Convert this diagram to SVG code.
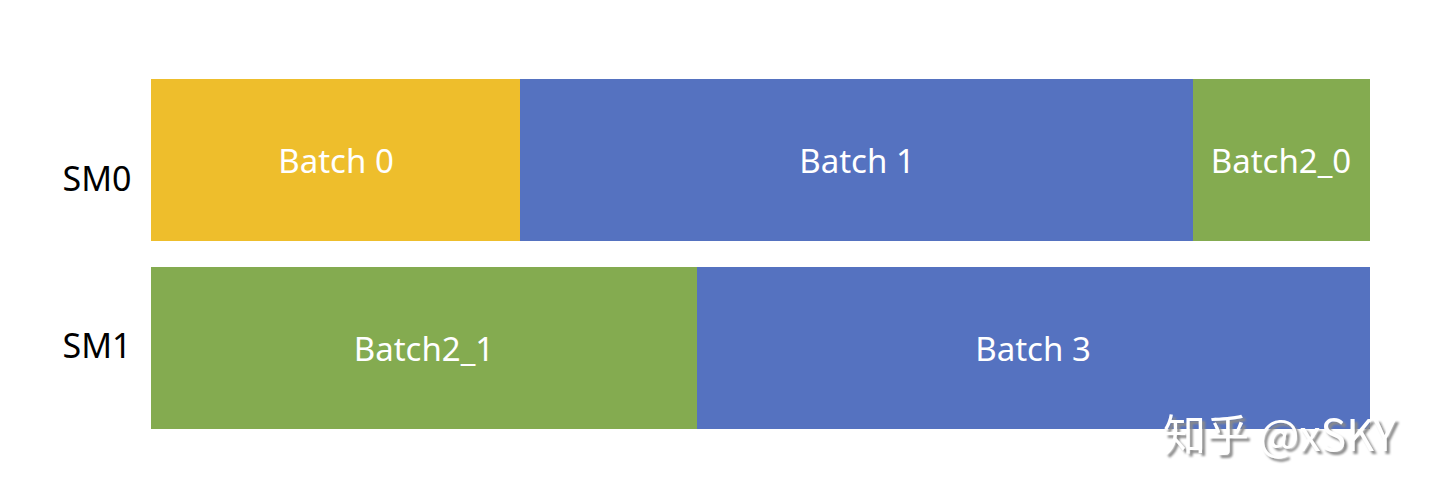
<svg xmlns="http://www.w3.org/2000/svg" width="1440" height="495" viewBox="0 0 1440 495">
<defs>
<filter id="shadow" x="-10%" y="-30%" width="120%" height="160%">
<feDropShadow dx="3" dy="3" stdDeviation="0.8" flood-color="#8a8a8a" flood-opacity="1"/>
</filter>
</defs>
<style>
.lbl{font-family:"Noto Sans","Liberation Sans",sans-serif;font-size:33px;fill:#ffffff;text-anchor:middle;dominant-baseline:central}
.sm{font-family:"Noto Sans","Liberation Sans",sans-serif;font-size:34px;fill:#000000;text-anchor:middle;dominant-baseline:central}
.yel{fill:#EEBE2C}
.blu{fill:#5572C0}
.grn{fill:#84AB50}
.wm{font-family:"Noto Sans CJK SC","Noto Sans",sans-serif;font-size:43px;fill:#ffffff;filter:url(#shadow)}
</style>
<rect width="1440" height="495" fill="#ffffff"/>
<g id="sm0-label"><text class="sm" x="97" y="178">SM0</text></g>
<g id="sm1-label"><text class="sm" x="97" y="345">SM1</text></g>
<g id="batch0"><rect class="yel" x="151" y="79" width="369" height="162"/><text class="lbl" x="336" y="160">Batch 0</text></g>
<g id="batch1"><rect class="blu" x="520" y="79" width="673" height="162"/><text class="lbl" x="857" y="160">Batch 1</text></g>
<g id="batch2_0"><rect class="grn" x="1193" y="79" width="177" height="162"/><text class="lbl" x="1281" y="160">Batch2_0</text></g>
<g id="batch2_1"><rect class="grn" x="151" y="267" width="546" height="162"/><text class="lbl" x="424" y="348">Batch2_1</text></g>
<g id="batch3"><rect class="blu" x="697" y="267" width="673" height="162"/><text class="lbl" x="1033" y="348">Batch 3</text></g>
<g id="connectors"></g>
<g id="watermark">
<text class="wm" x="1163" y="451">知乎 @xSKY</text>
</g>
</svg>
